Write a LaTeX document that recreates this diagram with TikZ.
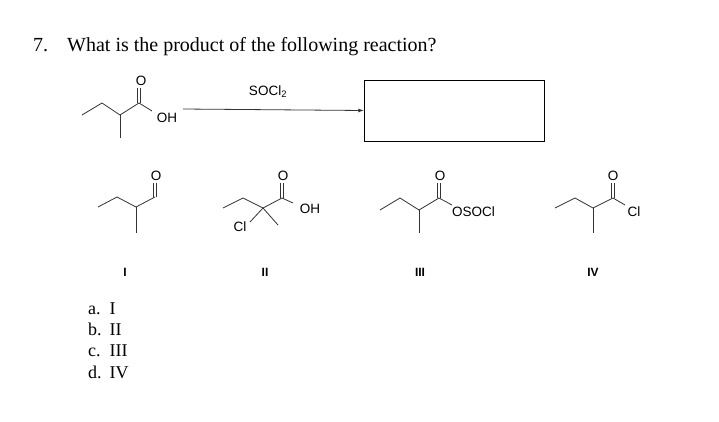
\documentclass[tikz,border=0pt]{standalone}
\usepackage{fontspec}
\setmainfont{Liberation Serif}
\newfontfamily\chemf{Liberation Sans}
\begin{document}
\begin{tikzpicture}[x=1pt,y=-1pt,
  bond/.style={line width=0.8pt,black!80},
  atom/.style={font=\chemf\fontsize{13.5}{15}\selectfont,inner sep=0pt},
  roman/.style={font=\chemf\bfseries\fontsize{12}{14}\selectfont,inner sep=0pt},
  qtext/.style={font=\fontsize{20}{24}\selectfont,anchor=base west,inner sep=0pt},
  ans/.style={font=\fontsize{18}{21}\selectfont,anchor=base west,inner sep=0pt}]
\useasboundingbox[fill=white] (0,0) rectangle (719,421);
\node[qtext] (q) at (33,51) {7.\hspace{19pt}What is the product of the following reaction?};
% reactant
\draw[bond] (82,115)--(102,103)--(120,115)--(139,103)--(152,111);
\draw[bond] (120,115)--(120,138);
\draw[bond] (137.5,103)--(137.5,88) (140.5,103)--(140.5,88);
\node[atom] (o0) at (141,81) {O};
\node[atom] (oh0) at (167,118) {OH};
\node[atom] (socl) at (268,92) {SOCl\textsubscript{2}};
\coordinate (a1) at (183,109);
\node[draw,line width=0.8pt,minimum width=180pt,minimum height=61pt,inner sep=0pt] (box) at (454,110.5) {};
\draw[bond,-latex] (a1)--(box.west);
% I
\draw[bond] (98,207)--(117,197)--(136,207)--(155,197);
\draw[bond] (136,207)--(136,233);
\draw[bond] (153.5,197)--(153.5,183) (156.5,197)--(156.5,183);
\node[atom] (o1) at (156,176) {O};
\node[roman] (r1) at (125,272) {I};
% II
\draw[bond] (223,208)--(243,198)--(263,208)--(282,198)--(293,203);
\draw[bond] (263,208)--(278,225);
\draw[bond] (263,208)--(250,222);
\draw[bond] (280.5,198)--(280.5,183) (283.5,198)--(283.5,183);
\node[atom] (o2) at (283,176) {O};
\node[atom] (oh2) at (310,209) {OH};
\node[atom] (cl2) at (240,227) {Cl};
\node[roman] (r2) at (265,272) {II};
% III
\draw[bond] (380,210)--(400,198)--(419,210)--(439,198)--(452,205);
\draw[bond] (419,210)--(419,233);
\draw[bond] (437.5,198)--(437.5,183) (440.5,198)--(440.5,183);
\node[atom] (o3) at (440,176) {O};
\node[atom,anchor=west] (os) at (452,212) {OSOCl};
\node[roman] (r3) at (420,272) {III};
% IV
\draw[bond] (555,208)--(575,198)--(593,208)--(613,198)--(625,205);
\draw[bond] (593,208)--(593,233);
\draw[bond] (611.5,198)--(611.5,183) (614.5,198)--(614.5,183);
\node[atom] (o4) at (613,176) {O};
\node[atom] (cl4) at (634,212) {Cl};
\node[roman] (r4) at (593,272) {IV};
% answers
\node[ans] (aa) at (88,314) {a.\hspace{9pt}I};
\node[ans] (ab) at (88,335) {b.\hspace{8pt}II};
\node[ans] (ac) at (88,356) {c.\hspace{9pt}III};
\node[ans] (ad) at (88,378) {d.\hspace{8pt}IV};
\end{tikzpicture}
\end{document}
